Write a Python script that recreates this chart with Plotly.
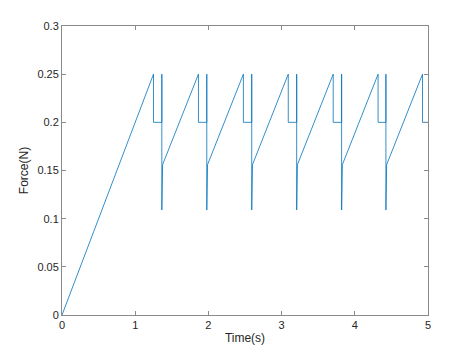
import plotly.graph_objects as go

# Read values: (time, force) points of the trace
time_s = [0.0, 1.250,
          1.250, 1.364, 1.364, 1.364, 1.367, 1.370, 1.374, 1.864,
          1.864, 1.978, 1.978, 1.978, 1.981, 1.984, 1.988, 2.478,
          2.478, 2.592, 2.592, 2.592, 2.595, 2.598, 2.602, 3.091,
          3.091, 3.206, 3.206, 3.206, 3.209, 3.212, 3.216, 3.705,
          3.705, 3.820, 3.820, 3.820, 3.823, 3.826, 3.830, 4.318,
          4.318, 4.425, 4.425, 4.425, 4.428, 4.431, 4.435, 4.925,
          4.925, 5.0]
force_n = [0.0, 0.250,
           0.200, 0.200, 0.250, 0.109, 0.166, 0.147, 0.156, 0.250,
           0.200, 0.200, 0.250, 0.109, 0.166, 0.147, 0.156, 0.250,
           0.200, 0.200, 0.250, 0.109, 0.166, 0.147, 0.156, 0.250,
           0.200, 0.200, 0.250, 0.109, 0.166, 0.147, 0.156, 0.250,
           0.200, 0.200, 0.250, 0.109, 0.166, 0.147, 0.156, 0.250,
           0.200, 0.200, 0.250, 0.109, 0.166, 0.147, 0.156, 0.250,
           0.200, 0.200]

x_ticks = [0, 1, 2, 3, 4, 5]
y_ticks = [0, 0.05, 0.1, 0.15, 0.2, 0.25, 0.3]
y_tick_labels = ["0", "0.05", "0.1", "0.15", "0.2", "0.25", "0.3"]

fig = go.Figure()
fig.add_trace(go.Scatter(x=time_s, y=force_n, mode="lines",
                         line=dict(color="#0072BD", width=0.8),
                         showlegend=False, hoverinfo="skip"))

axis_common = dict(
    showgrid=False, zeroline=False, showline=True, linecolor="#8a8a8a",
    linewidth=1, mirror="ticks", ticks="inside", ticklen=4,
    tickcolor="#8a8a8a", tickwidth=1,
    tickfont=dict(family="Liberation Sans, Arial, sans-serif", size=11, color="#262626"),
)

fig.update_layout(
    width=474, height=355,
    margin=dict(l=62, r=46, t=26, b=40, pad=0),
    paper_bgcolor="white", plot_bgcolor="white",
    xaxis=dict(range=[0, 5], tickvals=x_ticks, ticktext=[str(v) for v in x_ticks],
               title=dict(text="Time(s)", standoff=3,
                          font=dict(family="Liberation Sans, Arial, sans-serif", size=12, color="#262626")),
               **axis_common),
    yaxis=dict(range=[0, 0.3], tickvals=y_ticks, ticktext=y_tick_labels,
               title=dict(text="Force(N)", standoff=6,
                          font=dict(family="Liberation Sans, Arial, sans-serif", size=12, color="#262626")),
               **axis_common),
)

fig.write_html("out.html")
